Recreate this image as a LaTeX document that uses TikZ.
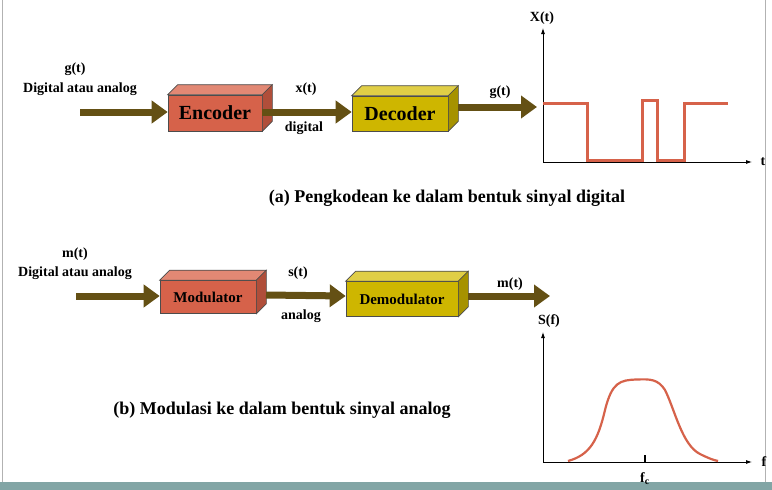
\documentclass[tikz,border=0pt]{standalone}
\usepackage{fontspec}
\setmainfont{Liberation Serif}
\usetikzlibrary{arrows.meta,calc}
\definecolor{arr}{RGB}{100,80,20}
\definecolor{arrd}{RGB}{60,45,10}
\definecolor{encF}{RGB}{214,98,74}
\definecolor{encT}{RGB}{226,136,116}
\definecolor{encS}{RGB}{176,78,58}
\definecolor{decF}{RGB}{206,182,0}
\definecolor{decT}{RGB}{224,206,70}
\definecolor{decS}{RGB}{166,146,0}
\definecolor{sig}{RGB}{214,98,74}
\definecolor{bar}{RGB}{130,165,165}
\tikzset{
 lbl/.style={font=\bfseries\fontsize{14}{16}\selectfont,inner sep=0pt},
 fat/.style={draw=arrd,line width=8.5pt,-{Triangle[length=17pt,width=24pt]},preaction={draw=arrd,line width=10pt,-{Triangle[length=19pt,width=27pt]}},color=arr},
 fatin/.style={arr,line width=7pt,-{Triangle[length=16pt,width=22pt]}},
 blk/.style={draw=black!70,line width=0.6pt,inner sep=0pt,font=\bfseries},
 axis/.style={line width=0.8pt,-{Latex[length=6pt,width=4pt]}},
}
\newcommand\tops[4]{% node, depth, topcolor, sidecolor
 \draw[fill=#3,draw=black!70,line width=0.6pt] (#1.north west)--++(#2,-#2)--($(#1.north east)+(#2,-#2)$)--(#1.north east)--cycle;
 \draw[fill=#4,draw=black!70,line width=0.6pt] (#1.north east)--++(#2,-#2)--($(#1.south east)+(#2,-#2)$)--(#1.south east)--cycle;}
\begin{document}
\begin{tikzpicture}[x=1pt,y=-1pt]
\useasboundingbox (0,0) rectangle (772,490);
\fill[white] (0,0) rectangle (772,490);
\draw[gray!60,line width=0.8pt] (2,0)--(2,482);
\draw[gray!60,line width=0.8pt] (765,0)--(765,482);
\fill[bar] (0,482) rectangle (772,490);
% part a
\node[blk,fill=encF,minimum width=94pt,minimum height=36pt,font=\bfseries\fontsize{20}{22}\selectfont] (enc) at (215,113) {Encoder};
\tops{enc}{10}{encT}{encS}
\node[blk,fill=decF,minimum width=96pt,minimum height=35pt,font=\bfseries\fontsize{20}{22}\selectfont] (dec) at (400,113.5) {Decoder};
\tops{dec}{10}{decT}{decS}
\coordinate (ina) at (80,112);
\coordinate (outa) at (537,107);
\draw[fatin] (ina) -- (enc.west|-ina);
\draw[fatin] (262,112) -- (dec.west|-ina);
\draw[fatin] (458,107) -- (outa);
\node[lbl] (ga) at (75,69) {g(t)};
\node[lbl] (da) at (80,89) {Digital atau analog};
\node[lbl] (xa) at (306,89) {x(t)};
\node[lbl] (dg) at (304,128) {digital};
\node[lbl] (g2) at (500,92) {g(t)};
% graph a
\coordinate (oa) at (543,162);
\draw[axis] (oa) -- (543,28);
\draw[axis] (oa) -- (752,162);
\node[lbl] (Xt) at (542,18) {X(t)};
\node[lbl] (ta) at (763,162) {t};
\draw[sig,line width=3pt] (543,103)--(587,103)--(587,160)--(642,160)--(642,100)--(657,100)--(657,160)--(684,160)--(684,103)--(728,103);
\node[font=\bfseries\fontsize{18}{20}\selectfont,inner sep=0pt] (capa) at (447,198) {(a) Pengkodean ke dalam bentuk sinyal digital};
% part b
\node[blk,fill=encF,minimum width=96pt,minimum height=33pt,font=\bfseries\fontsize{15}{17}\selectfont] (mod) at (208,297) {Modulator};
\tops{mod}{10}{encT}{encS}
\node[blk,fill=decF,minimum width=112pt,minimum height=35pt,font=\bfseries\fontsize{15}{17}\selectfont] (dem) at (402,299) {Demodulator};
\tops{dem}{10}{decT}{decS}
\coordinate (inb) at (76,296);
\coordinate (outb) at (550,296);
\draw[fatin] (inb) -- (mod.west|-inb);
\draw[fatin] (266,295) -- (dem.west|-inb);
\draw[fatin] (468,296) -- (outb);
\node[lbl] (mb) at (75,254) {m(t)};
\node[lbl] (db) at (75,273) {Digital atau analog};
\node[lbl] (sb) at (298,273) {s(t)};
\node[lbl] (an) at (301,316) {analog};
\node[lbl] (m2) at (510,284) {m(t)};
% graph b
\coordinate (ob) at (543,462);
\draw[axis] (ob) -- (543,332);
\draw[axis] (ob) -- (752,462);
\node[lbl] (Sf) at (549,321) {S(f)};
\node[lbl] (fb) at (764,462) {f};
\draw[line width=2pt] (645,455)--(645,462);
\node[lbl] (fc) at (645,479) {f$_{\mathbf c}$};
\draw[sig,line width=2.2pt] (568,461) .. controls (590,455) and (598,440) .. (605,410) .. controls (612,382) and (620,380) .. (637,379.5) .. controls (650,379) and (658,379) .. (665,390) .. controls (675,410) and (682,445) .. (700,454) .. controls (708,458) and (713,460) .. (718,461);
\node[font=\bfseries\fontsize{18}{20}\selectfont,inner sep=0pt] (capb) at (282,410) {(b) Modulasi ke dalam bentuk sinyal analog};
\end{tikzpicture}
\end{document}
